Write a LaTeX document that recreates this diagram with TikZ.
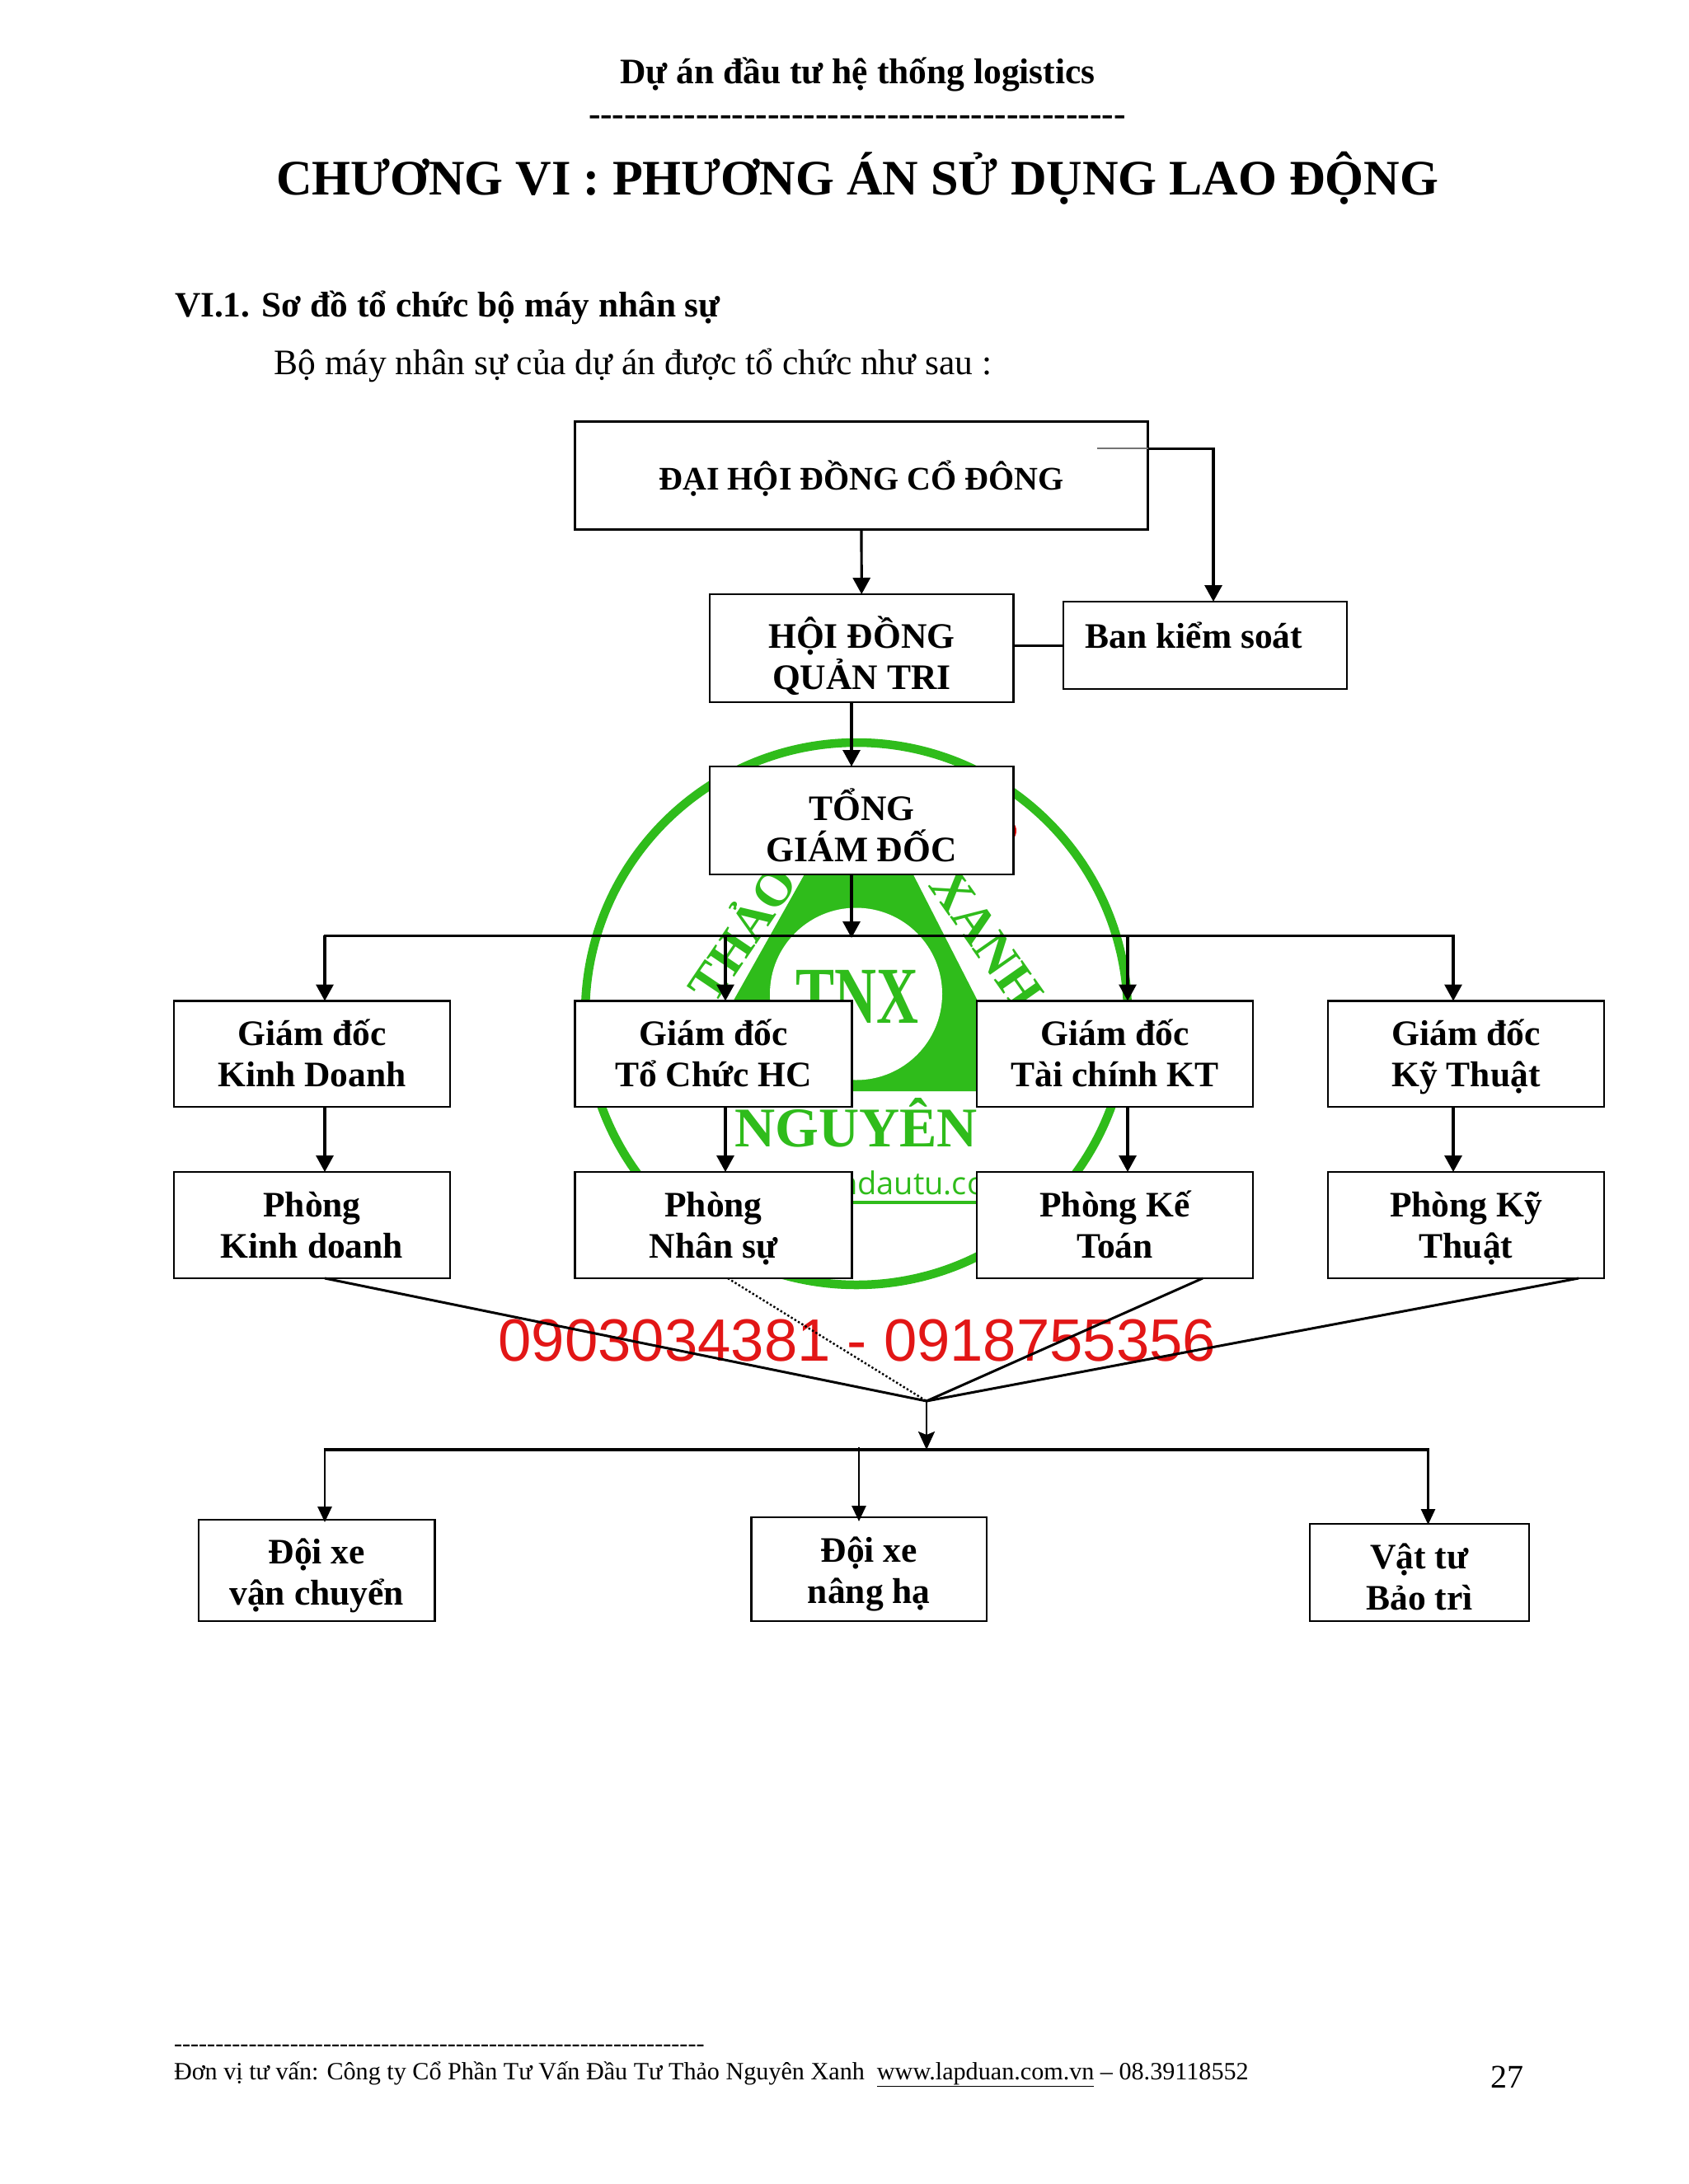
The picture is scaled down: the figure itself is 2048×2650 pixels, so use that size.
\documentclass[tikz,border=0pt]{standalone}
\usepackage{fontspec}
\usepackage{graphicx}
\setmainfont{Liberation Serif}
\newfontfamily\serifplain{Liberation Serif}
\newfontfamily\sansw{Liberation Sans}
\newfontfamily\sansurl{Open Sans}
\usetikzlibrary{arrows.meta}
\definecolor{logogreen}{HTML}{2FBC1B}
\definecolor{phonered}{HTML}{E21616}
\newcommand{\fs}[1]{\fontsize{#1}{50}\selectfont}
\newcommand{\st}[1]{\rule{0pt}{#1pt}\rule[\numexpr #1-50\relax pt]{0pt}{0pt}}
\newcommand{\bx}[7]{%
  \pgfmathsetmacro{\bxw}{#4-#2}\pgfmathsetmacro{\bxh}{#5-#3}%
  \pgfmathsetmacro{\bxx}{(#4+#2)/2}\pgfmathsetmacro{\bxy}{(#5+#3)/2}%
  \def\kst##1{\st{#6}\smash{##1}}%
  \node[boxn,minimum width=\bxw pt,minimum height=\bxh pt] (#1) at (\bxx,\bxy) {#7};}
\tikzset{
  x=1pt,y=-1pt,
  boxn/.style={draw=black,line width=2.7pt,fill=white,inner sep=0pt,outer sep=0pt,align=center,font=\fs{43.5}\bfseries},
  lbl/.style={inner sep=0pt,outer sep=0pt,anchor=base west},
  arr/.style={line width=3.2pt,-{Triangle[length=20pt,width=21pt]}},
  arrb/.style={line width=2.8pt,-{Triangle[length=19pt,width=17pt]}},
  arrc/.style={line width=2.8pt,-{Stealth[length=22pt,width=20pt,inset=4pt]}},
  conn/.style={line width=3pt},
  wm/.style={inner sep=0pt,outer sep=0pt,text=logogreen},
}
\begin{document}
\begin{tikzpicture}
\useasboundingbox (0,0) rectangle (2048,2650);
\fill[white] (0,0) rectangle (2048,2650);
% page text
\node[lbl] (hdr) at (752,101.5) {\fs{43.5}\bfseries Dự án đầu tư hệ thống logistics};
\node[lbl,font=\serifplain\fs{43.5}\bfseries] (dash1) at (714,152) {---------------------------------------------};
\node[lbl] (title) at (335,236) {\fs{60.3}\bfseries CHƯƠNG VI : PHƯƠNG ÁN SỬ DỤNG LAO ĐỘNG};
\node[lbl] (sec) at (212,384.5) {\fs{43.3}\bfseries VI.1. Sơ đồ tổ chức bộ máy nhân sự};
\node[lbl] (intro) at (332.5,454.5) {\fs{43.5}Bộ máy nhân sự của dự án được tổ chức như sau :};
\node[lbl,font=\serifplain\fs{30.2}] (dash2) at (211,2489.5) {----------------------------------------------------------------};
\node[lbl] (foot) at (211,2523) {\fs{30.15}Đơn vị tư vấn: Công ty Cổ Phần Tư Vấn Đầu Tư Thảo Nguyên Xanh\ \ \underline{www.lapduan.com.vn} – 08.39118552};
\node[lbl] (pageno) at (1808,2533) {\fs{40}27};
% watermark
\draw[logogreen,line width=10.5pt] (1039,1230) circle (329);
\fill[red!85!black] (1218,1008) circle (15);
\fill[logogreen] (1045,938) -- (828,1324) -- (1242,1324) -- cycle;
\fill[white] (1038.5,1206) circle (104.5);
\node[wm,font=\fs{62}\bfseries,rotate=56,anchor=base] (wa) at (918,1145) {THẢO};
\node[wm,font=\fs{64}\bfseries,rotate=-55,anchor=base] (wb) at (1180,1152) {XANH};
\node[wm,font=\fs{98}\bfseries,anchor=base] (wc) at (1040,1241) {\scalebox{.72}[1]{TNX}};
\node[wm,font=\fs{68}\bfseries,anchor=base] (wd) at (1038.5,1391) {NGUYÊN};
\node[wm,font=\sansurl\fs{38},anchor=base west] (we) at (1017,1449) {ndautu.co};
\draw[logogreen,line width=4pt] (1000,1459) -- (1190,1459);
\node[inner sep=0pt,outer sep=0pt,text=phonered,font=\sansw\fs{72.5},anchor=base] (phone) at (1040,1651) {0903034381 - 0918755356};
% boxes
\bx{dhd}{697.5}{511.5}{1392.5}{642.5}{42}{\fs{40}\bfseries\kst{ĐẠI HỘI ĐỒNG CỔ ĐÔNG}}
\bx{hd}{861}{721}{1229.5}{852}{50}{\kst{HỘI ĐỒNG}\\\kst{QUẢN TRI}}
\bx{ban}{1290}{730}{1634}{836}{28}{\hspace*{-27pt}\kst{Ban kiểm soát}}
\bx{tg}{861}{930}{1229.5}{1061}{50}{\kst{TỔNG}\\\kst{GIÁM ĐỐC}}
\bx{gkd}{211}{1214.5}{546}{1343}{40}{\kst{Giám đốc}\\\kst{Kinh Doanh}}
\bx{gtc}{697.5}{1214.5}{1033.5}{1343}{40}{\kst{Giám đốc}\\\kst{Tổ Chức HC}}
\bx{gtk}{1185}{1214.5}{1520}{1343}{40}{\kst{Giám đốc}\\\kst{Tài chính KT}}
\bx{gkt}{1611}{1214.5}{1946}{1343}{40}{\kst{Giám đốc}\\\kst{Kỹ Thuật}}
\bx{pkd}{211}{1422}{546}{1551}{40}{\kst{Phòng}\\\kst{Kinh doanh}}
\bx{pns}{697.5}{1422}{1033.5}{1551}{40}{\kst{Phòng}\\\kst{Nhân sự}}
\bx{pkt}{1185}{1422}{1520}{1551}{40}{\kst{Phòng Kế}\\\kst{Toán}}
\bx{pkk}{1611}{1422}{1946}{1551}{40}{\kst{Phòng Kỹ}\\\kst{Thuật}}
\bx{dvc}{241}{1844}{527.5}{1967}{42}{\kst{Đội xe}\\\kst{vận chuyển}}
\bx{dnh}{911.5}{1841}{1197}{1967}{41}{\kst{Đội xe}\\\kst{nâng hạ}}
\bx{vtb}{1589}{1849}{1855}{1967}{45}{\kst{Vật tư}\\\kst{Bảo trì}}
% junction coordinates
\coordinate (jtg) at (1033,1135);
\coordinate (cl) at (394,1135);
\coordinate (cm) at (880,1135);
\coordinate (cn) at (1368,1135);
\coordinate (cr) at (1763,1135);
\coordinate (apex) at (1124,1700);
\coordinate (low) at (1124,1759);
\coordinate (ll) at (394,1759);
\coordinate (lm) at (1042,1756);
\coordinate (lr) at (1732.5,1759);
\coordinate (banin) at (1331,544);
\coordinate (banc) at (1472,544);
\coordinate (dotst) at (883,1551);
\coordinate (tkst) at (1459,1551);
\coordinate (kkst) at (1915,1551);
% connectors
\draw[arr] (dhd.south) -- (hd.north);
\draw[conn] (hd.east |- ban.west) -- (ban.west);
\draw[arr] (hd.south -| jtg) -- (tg.north -| jtg);
\draw[black!55,line width=2.8pt] (banin) -- (dhd.east |- banin);
\draw[conn] (dhd.east |- banin) -- ([xshift=1.6pt]banc);
\draw[arr] (banc) -- (banc |- ban.north);
\draw[arr] (tg.south -| jtg) -- ([yshift=-3pt]jtg);
\draw[line width=3pt] ([xshift=-1.5pt]cl) -- ([xshift=1.5pt]cr);
\draw[arr] (cl) -- (cl |- gkd.north);
\draw[arr] (cm) -- (cm |- gtc.north);
\draw[arr] (cn) -- (cn |- gtk.north);
\draw[arr] (cr) -- (cr |- gkt.north);
\draw[arr] (gkd.south -| cl) -- (pkd.north -| cl);
\draw[arr] (gtc.south -| cm) -- (pns.north -| cm);
\draw[arr] (gtk.south -| cn) -- (pkt.north -| cn);
\draw[arr] (gkt.south -| cr) -- (pkk.north -| cr);
\draw[conn] (pkd.south -| cl) -- (apex);
\draw[line width=2.4pt,dash pattern=on 2.4pt off 2.6pt] (dotst) -- (apex);
\draw[conn] (tkst) -- (apex);
\draw[conn] (kkst) -- (apex);
\draw[arrc] (apex) -- (low);
\draw[line width=3.2pt] ([xshift=-1.5pt]ll) -- ([xshift=1.5pt]lr);
\draw[arrb] (ll) -- ([yshift=-3pt]ll |- dvc.north);
\draw[arrb] (lm) -- ([yshift=-5pt]lm |- dnh.north);
\draw[arrb] (lr) -- ([yshift=-1pt]lr |- vtb.north);
\end{tikzpicture}
\end{document}
